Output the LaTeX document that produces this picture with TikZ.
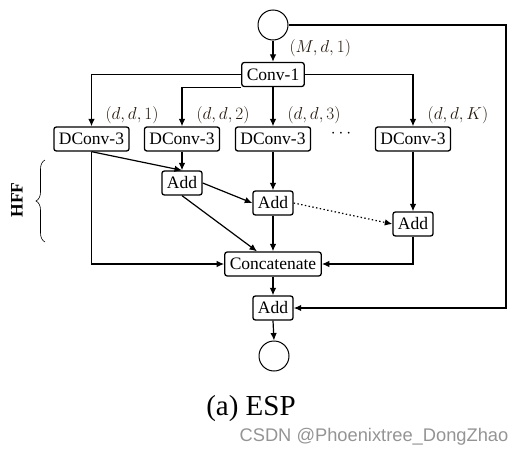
\documentclass[tikz,border=0pt]{standalone}
\usepackage{fontspec}
\setmainfont{Liberation Serif}
\newfontfamily\wmfont{Liberation Sans}
\usetikzlibrary{arrows.meta,decorations.pathreplacing}
\begin{document}
\begin{tikzpicture}[x=1pt,y=-1pt,
  blk/.style={draw,line width=1.3pt,rounded corners=2.5pt,inner xsep=5pt,inner ysep=0pt,minimum height=24pt,font=\fontsize{17.5}{20}\selectfont},
  io/.style={draw,line width=1pt,circle,minimum size=30pt,inner sep=0pt},
  conn/.style={line width=1.2pt,-{Latex[length=7.5pt,width=6.5pt]}},
  lbl/.style={font=\fontsize{17}{20}\selectfont,text=black!80!brown}]
\useasboundingbox (0,0) rectangle (525,458);
\node[io] (in) at (273,25) {};
\node[blk] (conv) at (273,74.5) {Conv-1};
\node[lbl,anchor=west] (lm) at (286,48) {$(M,d,1)$};
\node[blk] (d1) at (91.5,139) {DConv-3};
\node[blk] (d2) at (182,139) {DConv-3};
\node[blk] (d3) at (273,139) {DConv-3};
\node[blk] (d4) at (413,139) {DConv-3};
\node[lbl] (l1) at (132,115) {$(d,d,1)$};
\node[lbl] (l2) at (223,115) {$(d,d,2)$};
\node[lbl] (l3) at (314,115) {$(d,d,3)$};
\node[lbl] (l4) at (458,115) {$(d,d,K)$};
\node[font=\fontsize{17}{20}\selectfont] (dots) at (341,134) {$\cdots$};
\node[blk] (a1) at (182,183) {Add};
\node[blk] (a2) at (273,203) {Add};
\node[blk] (a3) at (413,224) {Add};
\node[blk] (cat) at (273,264) {Concatenate};
\node[blk] (a4) at (273,308) {Add};
\node[io] (out) at (274,356) {};
\node[font=\fontsize{17.5}{20}\selectfont\bfseries,rotate=90] (hff) at (17,200) {HFF};
\draw[line width=0.6pt,decorate,decoration={brace,amplitude=9pt}] (45,242) -- (45,160);
\node[font=\fontsize{29}{34}\selectfont] (cap) at (251,409) {(a) ESP};
\node[font=\wmfont\fontsize{18.3}{22}\selectfont,text=black!42] (wm) at (374,437) {CSDN @Phoenixtree\_DongZhao};
% connectors
\draw[conn] (in) -- (conv);
\draw[conn] (conv.west) -| (d1.north);
\draw[conn] (conv.south west) -| (d2.north);
\draw[conn] (conv.south) -- (d3.north);
\draw[conn] (conv.east) -| (d4.north);
\draw[conn] (d1.south) -- (a1.north);
\draw[conn] (d2.south) -- (a1.north);
\draw[conn] (d3.south) -- (a2.north);
\draw[conn] (d4.south) -- (a3.north);
\draw[conn] (a1.east) -- (a2.west);
\draw[conn,dash pattern=on 1.4pt off 2.4pt] (a2.east) -- (a3.west);
\draw[conn] (a1.south) -- ([xshift=-16pt]cat.north);
\draw[conn] (a2.south) -- (cat.north);
\draw[conn] (d1.south) |- (cat.west);
\draw[conn] (a3.south) |- (cat.east);
\draw[conn] (cat.south) -- (a4.north);
\draw[conn] (a4.south) -- (out.north);
\coordinate (rc) at (506,25);
\draw[conn] (in.east) -- (rc) |- (a4.east);
\end{tikzpicture}
\end{document}
